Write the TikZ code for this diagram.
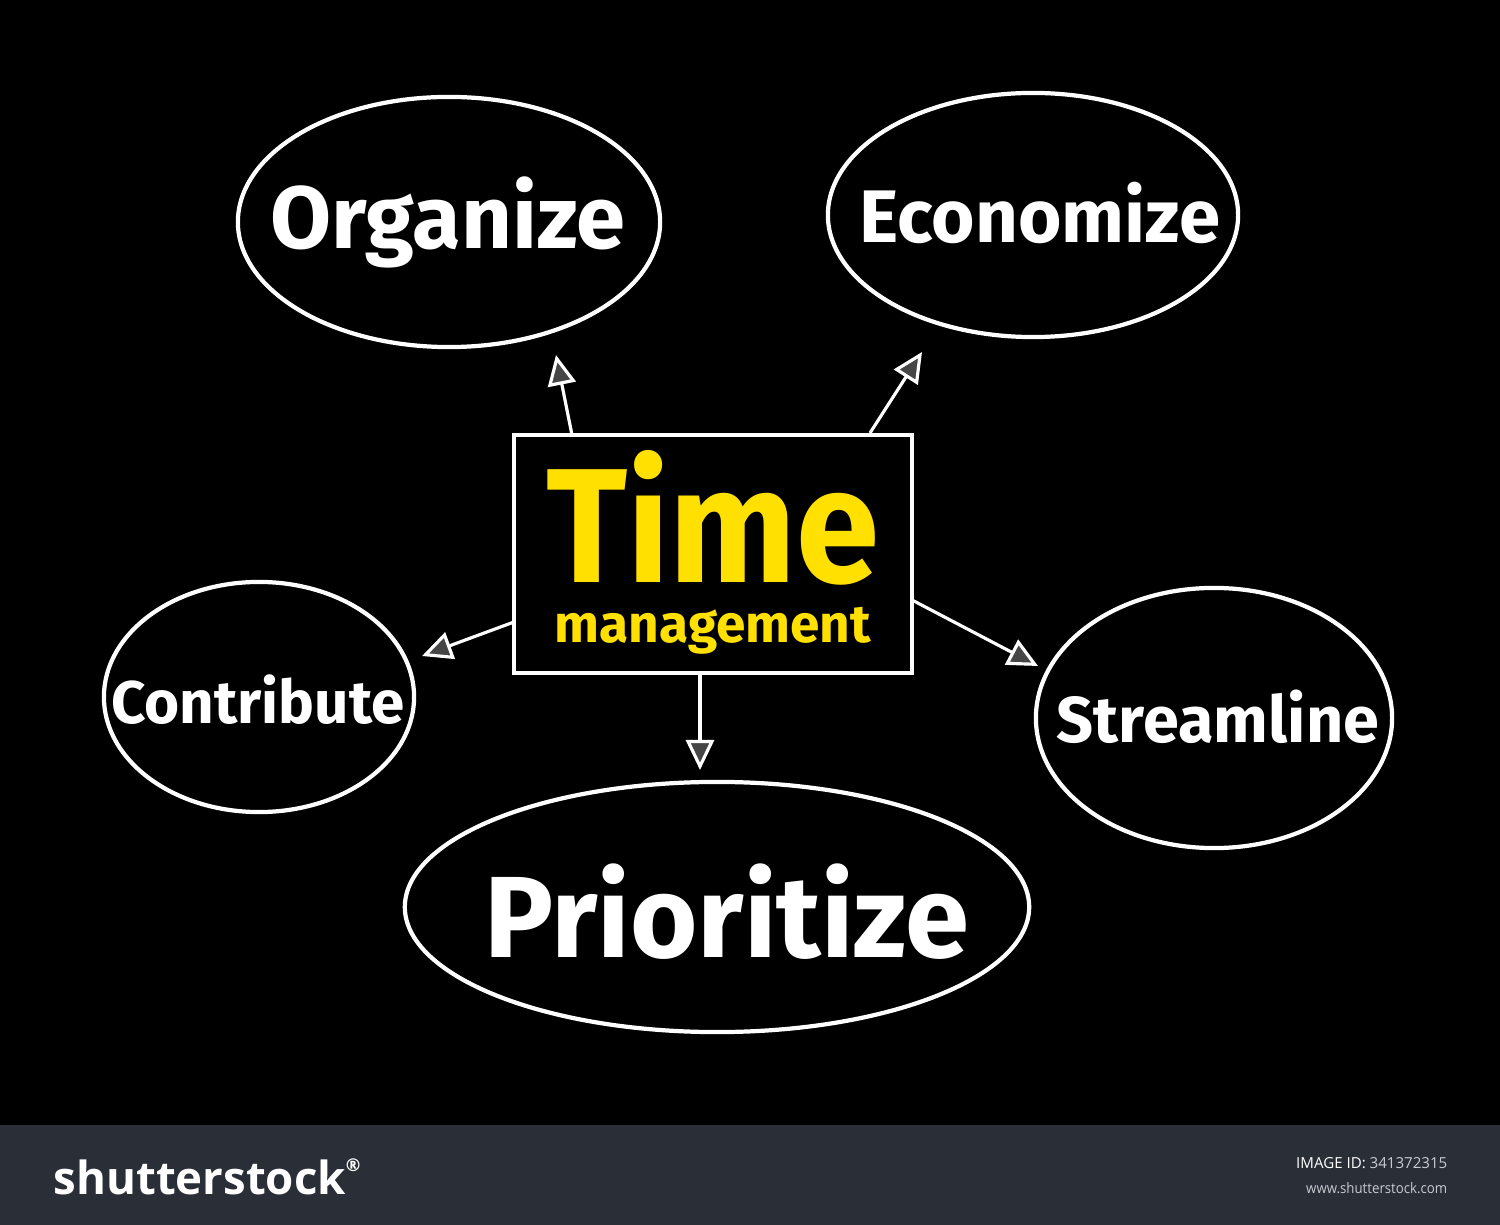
\documentclass[tikz,border=0pt]{standalone}
\usepackage{fontspec}
\setmainfont{Fira Sans}
\newfontfamily\footfont{Open Sans}
\usetikzlibrary{shapes.geometric,arrows.meta}
\definecolor{tmyellow}{HTML}{FFE000}
\definecolor{footerbg}{HTML}{292E37}
\definecolor{footgray}{HTML}{C8CACE}
\newcommand{\fitto}[2]{\resizebox{#1}{!}{#2}}
\begin{document}
\begin{tikzpicture}[x=0.01cm,y=-0.01cm,
  bubble/.style={draw=white, line width=1.2pt, ellipse, inner sep=0pt},
  word/.style={text=white, font=\bfseries, inner sep=0pt},
  yword/.style={text=tmyellow, font=\bfseries, inner sep=0pt},
  arr/.style={draw=white, line width=0.9pt, -{Triangle[length=0.3cm,width=0.28cm,fill=gray!55!black]}},
]
\fill[black] (0,0) rectangle (1500,1125);
\fill[footerbg] (0,1125) rectangle (1500,1225);
\useasboundingbox (0,0) rectangle (1500,1225);

% bubbles
\node[bubble, minimum width=4.22cm, minimum height=2.5cm] (org) at (449,222) {};
\node[bubble, minimum width=4.1cm, minimum height=2.44cm] (eco) at (1033,215) {};
\node[bubble, minimum width=3.1cm, minimum height=2.3cm] (con) at (259,697) {};
\node[bubble, minimum width=3.56cm, minimum height=2.6cm] (str) at (1214,718) {};
\node[bubble, minimum width=6.24cm, minimum height=2.5cm] (pri) at (717,907) {};

\node[word] (torg) at (448,222) {\fitto{3.55cm}{Organize}};
\node[word] (teco) at (1040,213) {\fitto{3.6cm}{Economize}};
\node[word] (tcon) at (258,700) {\fitto{2.93cm}{Contribute}};
\node[word] (tstr) at (1218,717) {\fitto{3.22cm}{Streamline}};
\node[word] (tpri) at (727,912) {\fitto{4.85cm}{Prioritize}};

% central box
\node[draw=white, line width=1.1pt, minimum width=3.98cm, minimum height=2.38cm, inner sep=0pt] (tm) at (713,554) {};
\node[yword, align=center, anchor=north] (ttime) at (713,450)
  {\resizebox{3.33cm}{1.32cm}{Time}\\[5pt]\fitto{3.16cm}{management}};

% arrows
\coordinate (s1) at (572,435);
\coordinate (e1) at (556,355);
\coordinate (s2) at (870,433);
\coordinate (e2) at (922,352);
\coordinate (s3) at (514,622);
\coordinate (e3) at (422,656);
\coordinate (s4) at (700,675);
\coordinate (e4) at (700,770);
\coordinate (s5) at (912,600);
\coordinate (e5) at (1038,666);
\draw[arr] (s1) -- (e1);
\draw[arr] (s2) -- (e2);
\draw[arr] (s3) -- (e3);
\draw[arr] (s4) -- (e4);
\draw[arr] (s5) -- (e5);

% footer
\node[anchor=west, text=white, font=\footfont\bfseries, inner sep=0pt] (logo) at (53,1177) {\fitto{2.92cm}{shutterstock}\raisebox{1.2ex}{\footfont\tiny ®}};
\node[anchor=east, text=white, font=\footfont, inner sep=0pt] (imgid) at (1448,1163) {\resizebox{1.51cm}{0.11cm}{IMAGE ID: {\color{footgray}341372315}}};
\node[anchor=east, text=footgray, font=\footfont, inner sep=0pt] (url) at (1448,1188) {\resizebox{1.41cm}{0.11cm}{www.shutterstock.com}};
\end{tikzpicture}
\end{document}
